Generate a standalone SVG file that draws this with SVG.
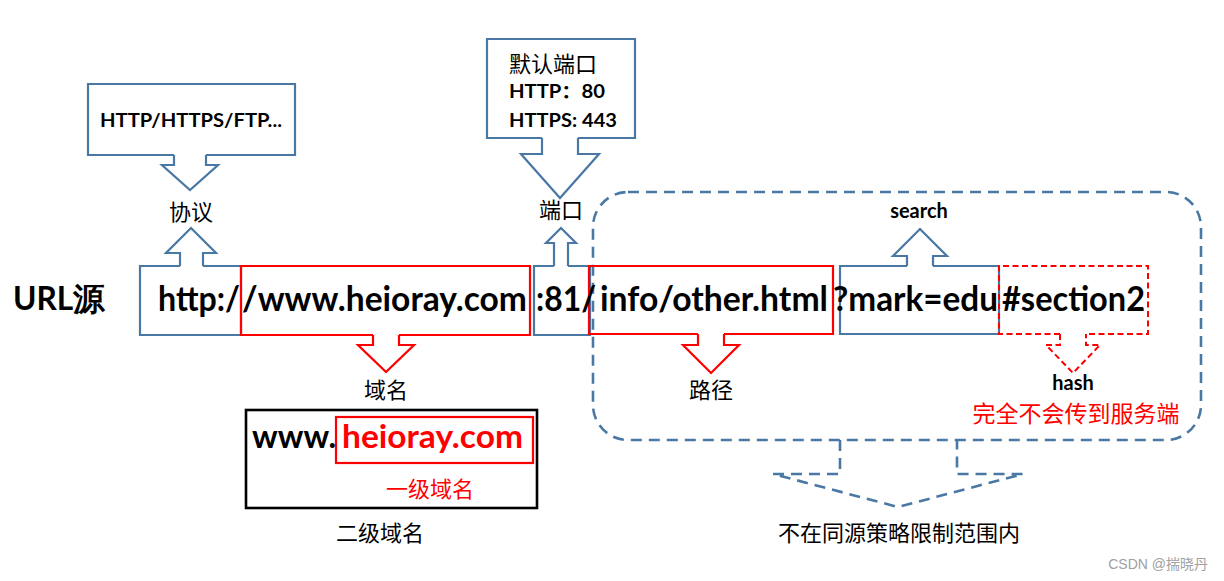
<svg xmlns="http://www.w3.org/2000/svg" width="1224" height="581" viewBox="0 0 1224 581">
<style>
.bl{fill:none;stroke:#4a78a4;stroke-width:2.2;stroke-linejoin:miter}
.rd{fill:none;stroke:#ff0000;stroke-width:2.2}
.rdd{fill:none;stroke:#ff0000;stroke-width:2;stroke-dasharray:6 3.5}
.bld{fill:none;stroke:#4a78a4;stroke-width:2.6;stroke-dasharray:11 7}
.url{font-family:Lato,"Liberation Sans",sans-serif;font-weight:bold;font-size:35px;fill:#000}
.en{font-family:Lato,"Liberation Sans","Noto Sans CJK SC",sans-serif;font-weight:bold;font-size:18px;fill:#000}
.cn{font-family:"Noto Sans CJK SC",sans-serif;font-size:21px;fill:#000}
.mid{text-anchor:middle}
.red{fill:#ff0000}
</style>
<rect width="1224" height="581" fill="#fff"/>

<g id="protocol-box">
<path class="bl" d="M174,155 H88 V84 H295 V155 H206"/>
<text class="en" x="100" y="127" textLength="182" lengthAdjust="spacingAndGlyphs">HTTP/HTTPS/FTP...</text>
</g>

<g id="default-port-box">
<path class="bl" d="M542,138 H487 V39 H635 V138 H578"/>
<text class="cn" x="509" y="72" style="font-size:22px">默认端口</text>
<text class="en" x="509" y="98" textLength="96" lengthAdjust="spacingAndGlyphs">HTTP：80</text>
<text class="en" x="509" y="127" textLength="108" lengthAdjust="spacingAndGlyphs">HTTPS: 443</text>
</g>

<g id="same-origin-box">
<rect class="bld" x="593" y="192" width="608" height="248" rx="35" ry="35"/>
</g>

<g id="url-protocol">
<path class="bl" d="M180,266 H140 V335 H241 V266 H203"/>
</g>
<g id="url-port">
<path class="bl" d="M554,266 H534 V335 H590 V266 H568"/>
</g>
<g id="url-search">
<path class="bl" d="M907,266 H840 V334 H999 V266 H933"/>
</g>
<g id="url-domain">
<path class="rd" d="M373,335 H241 V266 H530 V335 H399"/>
</g>
<g id="url-path">
<path class="rd" d="M698,334 H589 V266 H833 V334 H724"/>
</g>
<g id="url-hash">
<path class="rdd" d="M1060,334 H999 V266 H1148 V334 H1086"/>
</g>

<g id="connectors">
<path class="bl" d="M174,155 V165 H162 L190,190 L218,165 H206 V155"/>
<path class="bl" d="M542,138 V154 H521 L560,198 L599,154 H578 V138"/>
<path class="bl" d="M180,266 V253 H166 L191,228 L216,253 H203 V266"/>
<path class="bl" d="M554,266 V243 H546 L561,228 L576,243 H568 V266"/>
<path class="bl" d="M907,266 V256 H893 L920,229 L947,256 H933 V266"/>
<path class="rd" d="M373,335 V345 H358 L386,372 L414,345 H399 V335"/>
<path class="rd" d="M698,334 V345 H683 L711,373 L739,345 H724 V334"/>
<path class="rdd" d="M1060,334 V345 H1046 L1073,373 L1100,345 H1086 V334"/>
<path class="bld" d="M840,440 V474 H773 L898,507 L1023,474 H957 V440"/>
</g>

<g id="url-text">
<text class="url" x="13" y="310" style="font-size:32px" textLength="92" lengthAdjust="spacingAndGlyphs">URL源</text>
<text class="url" x="158" y="311" textLength="82" lengthAdjust="spacingAndGlyphs">http:/</text>
<text class="url" x="242" y="311" textLength="285" lengthAdjust="spacingAndGlyphs">/www.heioray.com</text>
<text class="url" x="536" y="311" textLength="60" lengthAdjust="spacingAndGlyphs">:81/</text>
<text class="url" x="600" y="311" textLength="228" lengthAdjust="spacingAndGlyphs">info/other.html</text>
<text class="url" x="833" y="311" textLength="165" lengthAdjust="spacingAndGlyphs">?mark=edu</text>
<text class="url" x="1002" y="311" textLength="143" lengthAdjust="spacingAndGlyphs">#section2</text>
</g>

<g id="labels">
<text class="cn mid" x="191" y="220" style="font-size:22px">协议</text>
<text class="cn mid" x="561" y="218" style="font-size:22px">端口</text>
<text class="en mid" x="919" y="218" style="font-size:20px">search</text>
<text class="cn mid" x="386" y="398" style="font-size:22px">域名</text>
<text class="cn mid" x="711" y="398" style="font-size:22px">路径</text>
<text class="en mid" x="1073" y="390" style="font-size:20px">hash</text>
<text class="cn mid red" x="1076" y="422" style="font-size:23px">完全不会传到服务端</text>
<text class="cn mid" x="899" y="541" style="font-size:22px">不在同源策略限制范围内</text>
</g>

<g id="domain-detail">
<rect x="246" y="410" width="291" height="98" fill="none" stroke="#000" stroke-width="2.6"/>
<rect x="336" y="417" width="197" height="46" fill="none" stroke="#ff0000" stroke-width="2.2"/>
<text class="url" x="252" y="448" style="font-size:33px" textLength="84" lengthAdjust="spacingAndGlyphs">www.</text>
<text class="url red" x="342" y="448" style="font-size:33px" textLength="181" lengthAdjust="spacingAndGlyphs">heioray.com</text>
<text class="cn mid red" x="430" y="497" style="font-size:22px">一级域名</text>
<text class="cn mid" x="380" y="541" style="font-size:22px">二级域名</text>
</g>

<text x="1208" y="569" text-anchor="end" style="font-family:'Liberation Sans','Noto Sans CJK SC',sans-serif;font-size:14px;fill:#a0a0a0">CSDN @揣晓丹</text>
</svg>
